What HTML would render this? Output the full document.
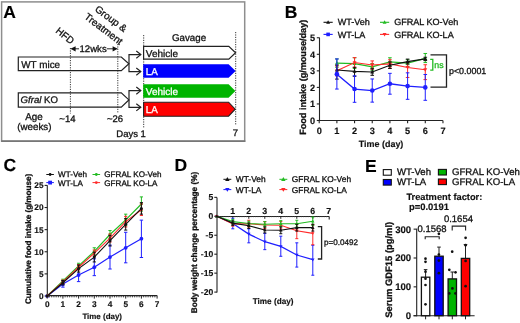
<!DOCTYPE html><html><head><meta charset="utf-8"><style>html,body{margin:0;padding:0;background:#fff;}svg{display:block;will-change:transform;text-rendering:geometricPrecision;} text{font-family:"Liberation Sans",sans-serif;}</style></head><body>
<svg width="520" height="323" viewBox="0 0 520 323" font-family="Liberation Sans, sans-serif">
<rect width="520" height="323" fill="#fff"/>
<rect x="1.6" y="1.9" width="243.1" height="139.2" fill="none" stroke="#8e8e8e" stroke-width="1.5"/>
<line x1="1.2" y1="141.1" x2="245.4" y2="141.1" stroke="#6a6a6a" stroke-width="1.4" />
<text x="3.3" y="17.8" font-size="17.5" font-weight="bold" text-anchor="start" fill="#000" stroke="#000" stroke-width="0.15" >A</text>
<text x="0" y="0" font-size="9.9" text-anchor="middle" fill="#111" stroke="#111" stroke-width="0.3" transform="translate(62.9,38.3) rotate(38)">HFD</text>
<text x="0" y="0" font-size="9.95" text-anchor="middle" fill="#111" stroke="#111" stroke-width="0.3" transform="translate(109.0,21.4) rotate(36.5)">Group &amp;</text>
<text x="0" y="0" font-size="9.95" text-anchor="middle" fill="#111" stroke="#111" stroke-width="0.3" transform="translate(101.6,31.6) rotate(37)">Treatment</text>
<line x1="73" y1="48.8" x2="79" y2="48.8" stroke="#111" stroke-width="0.9" />
<line x1="107" y1="48.8" x2="115" y2="48.8" stroke="#111" stroke-width="0.9" />
<polygon points="70.4,48.8 75.6,46.2 75.6,51.4" fill="#111" stroke="none" stroke-width="1" />
<polygon points="117.8,48.8 112.6,46.2 112.6,51.4" fill="#111" stroke="none" stroke-width="1" />
<text x="93.1" y="51.8" font-size="9.6" text-anchor="middle" fill="#111" stroke="#111" stroke-width="0.3" >12wks</text>
<polygon points="18.3,57 121.3,57 128.9,63.7 121.3,70.6 18.3,70.6" fill="#fff" stroke="#222" stroke-width="1.2" />
<text x="21.3" y="67.8" font-size="9.9" text-anchor="start" fill="#111" stroke="#111" stroke-width="0.3" >WT mice</text>
<polygon points="18.3,92.8 121.3,92.8 128.9,99.9 121.3,107.2 18.3,107.2" fill="#fff" stroke="#222" stroke-width="1.2" />
<text x="20.6" y="103.3" font-size="9.6" fill="#111" stroke="#111" stroke-width="0.3"><tspan font-style="italic">Gfral</tspan> KO</text>
<polyline points="140.6,54.6 129,54.6 129,71.6 140.6,71.6" fill="none" stroke="#222" stroke-width="1.2" />
<polyline points="136.3,51 140.8,54.6 136.3,58.2" fill="none" stroke="#222" stroke-width="1.2" />
<polyline points="136.3,68 140.8,71.6 136.3,75.2" fill="none" stroke="#222" stroke-width="1.2" />
<polyline points="140.6,90.6 129,90.6 129,107.3 140.6,107.3" fill="none" stroke="#222" stroke-width="1.2" />
<polyline points="136.3,87 140.8,90.6 136.3,94.2" fill="none" stroke="#222" stroke-width="1.2" />
<polyline points="136.3,103.7 140.8,107.3 136.3,110.9" fill="none" stroke="#222" stroke-width="1.2" />
<line x1="70.4" y1="48" x2="70.4" y2="113.5" stroke="#222" stroke-width="0.9" stroke-dasharray="1.2 1.2"/>
<line x1="117.8" y1="44" x2="117.8" y2="113.5" stroke="#222" stroke-width="0.9" stroke-dasharray="1.2 1.2"/>
<line x1="143.7" y1="35" x2="143.7" y2="128" stroke="#222" stroke-width="0.9" stroke-dasharray="1.2 1.2"/>
<line x1="235.7" y1="32" x2="235.7" y2="125" stroke="#222" stroke-width="0.9" stroke-dasharray="1.2 1.2"/>
<polygon points="143.6,46.3 228.8,46.3 235.6,52.8 228.8,59.2 143.6,59.2" fill="#fff" stroke="#222" stroke-width="1.2" />
<polygon points="143.2,64.2 228.6,64.2 235.6,71 228.6,77.8 143.2,77.8" fill="#0000fe" stroke="none" stroke-width="1" />
<polygon points="143.2,84.3 228.6,84.3 235.4,91 228.6,97.8 143.2,97.8" fill="#00b400" stroke="none" stroke-width="1" />
<polygon points="143.6,102.2 228.6,102.2 235.2,109.2 228.6,116.2 143.6,116.2" fill="#fe0000" stroke="#222" stroke-width="1.1" />
<text x="145.8" y="56.6" font-size="10" text-anchor="start" fill="#111" stroke="#111" stroke-width="0.3" >Vehicle</text>
<text x="145.8" y="75.3" font-size="9.8" text-anchor="start" fill="#fff" stroke="#fff" stroke-width="0.3" >LA</text>
<text x="145.8" y="95.1" font-size="10" text-anchor="start" fill="#fff" stroke="#fff" stroke-width="0.3" >Vehicle</text>
<text x="145.8" y="113.3" font-size="9.8" text-anchor="start" fill="#fff" stroke="#fff" stroke-width="0.3" >LA</text>
<text x="189" y="40.8" font-size="9.75" text-anchor="middle" fill="#111" stroke="#111" stroke-width="0.3" >Gavage</text>
<text x="34" y="120" font-size="9.8" text-anchor="middle" fill="#111" stroke="#111" stroke-width="0.3" >Age</text>
<text x="34.3" y="130" font-size="9.8" text-anchor="middle" fill="#111" stroke="#111" stroke-width="0.3" >(weeks)</text>
<text x="67.4" y="121.7" font-size="9.5" text-anchor="middle" fill="#111" stroke="#111" stroke-width="0.3" >~14</text>
<text x="115.1" y="121.7" font-size="9.5" text-anchor="middle" fill="#111" stroke="#111" stroke-width="0.3" >~26</text>
<text x="131.1" y="136.5" font-size="9.5" text-anchor="middle" fill="#111" stroke="#111" stroke-width="0.3" >Days 1</text>
<text x="235.5" y="136" font-size="9.5" text-anchor="middle" fill="#111" stroke="#111" stroke-width="0.3" >7</text>
<text x="284.8" y="17.8" font-size="17.5" font-weight="bold" text-anchor="start" fill="#000" stroke="#000" stroke-width="0.15" >B</text>
<line x1="319.5" y1="37.6" x2="319.5" y2="121" stroke="#222" stroke-width="1.1" />
<line x1="319" y1="120.5" x2="442.9" y2="120.5" stroke="#222" stroke-width="1.1" />
<line x1="316.8" y1="120.5" x2="319.5" y2="120.5" stroke="#222" stroke-width="1.1" />
<text x="315" y="123.8" font-size="9.2" font-weight="bold" text-anchor="end" fill="#111" stroke="#111" stroke-width="0.15" >0</text>
<line x1="316.8" y1="103.95" x2="319.5" y2="103.95" stroke="#222" stroke-width="1.1" />
<text x="315" y="107.25" font-size="9.2" font-weight="bold" text-anchor="end" fill="#111" stroke="#111" stroke-width="0.15" >1</text>
<line x1="316.8" y1="87.4" x2="319.5" y2="87.4" stroke="#222" stroke-width="1.1" />
<text x="315" y="90.7" font-size="9.2" font-weight="bold" text-anchor="end" fill="#111" stroke="#111" stroke-width="0.15" >2</text>
<line x1="316.8" y1="70.85" x2="319.5" y2="70.85" stroke="#222" stroke-width="1.1" />
<text x="315" y="74.15" font-size="9.2" font-weight="bold" text-anchor="end" fill="#111" stroke="#111" stroke-width="0.15" >3</text>
<line x1="316.8" y1="54.3" x2="319.5" y2="54.3" stroke="#222" stroke-width="1.1" />
<text x="315" y="57.6" font-size="9.2" font-weight="bold" text-anchor="end" fill="#111" stroke="#111" stroke-width="0.15" >4</text>
<line x1="316.8" y1="37.75" x2="319.5" y2="37.75" stroke="#222" stroke-width="1.1" />
<text x="315" y="41.05" font-size="9.2" font-weight="bold" text-anchor="end" fill="#111" stroke="#111" stroke-width="0.15" >5</text>
<line x1="319.2" y1="120.5" x2="319.2" y2="123.2" stroke="#222" stroke-width="1.1" />
<text x="319.2" y="133.9" font-size="9.2" font-weight="bold" text-anchor="middle" fill="#111" stroke="#111" stroke-width="0.15" >0</text>
<line x1="336.88" y1="120.5" x2="336.88" y2="123.2" stroke="#222" stroke-width="1.1" />
<text x="336.88" y="133.9" font-size="9.2" font-weight="bold" text-anchor="middle" fill="#111" stroke="#111" stroke-width="0.15" >1</text>
<line x1="354.56" y1="120.5" x2="354.56" y2="123.2" stroke="#222" stroke-width="1.1" />
<text x="354.56" y="133.9" font-size="9.2" font-weight="bold" text-anchor="middle" fill="#111" stroke="#111" stroke-width="0.15" >2</text>
<line x1="372.24" y1="120.5" x2="372.24" y2="123.2" stroke="#222" stroke-width="1.1" />
<text x="372.24" y="133.9" font-size="9.2" font-weight="bold" text-anchor="middle" fill="#111" stroke="#111" stroke-width="0.15" >3</text>
<line x1="389.92" y1="120.5" x2="389.92" y2="123.2" stroke="#222" stroke-width="1.1" />
<text x="389.92" y="133.9" font-size="9.2" font-weight="bold" text-anchor="middle" fill="#111" stroke="#111" stroke-width="0.15" >4</text>
<line x1="407.6" y1="120.5" x2="407.6" y2="123.2" stroke="#222" stroke-width="1.1" />
<text x="407.6" y="133.9" font-size="9.2" font-weight="bold" text-anchor="middle" fill="#111" stroke="#111" stroke-width="0.15" >5</text>
<line x1="425.28" y1="120.5" x2="425.28" y2="123.2" stroke="#222" stroke-width="1.1" />
<text x="425.28" y="133.9" font-size="9.2" font-weight="bold" text-anchor="middle" fill="#111" stroke="#111" stroke-width="0.15" >6</text>
<line x1="442.96" y1="120.5" x2="442.96" y2="123.2" stroke="#222" stroke-width="1.1" />
<text x="442.96" y="133.9" font-size="9.2" font-weight="bold" text-anchor="middle" fill="#111" stroke="#111" stroke-width="0.15" >7</text>
<text x="381.1" y="146.9" font-size="8.95" font-weight="bold" text-anchor="middle" fill="#111" stroke="#111" stroke-width="0.15" >Time (day)</text>
<text x="0" y="0" font-size="9.08" font-weight="bold" text-anchor="middle" fill="#111" stroke="#111" stroke-width="0.3" transform="translate(306.2,77.3) rotate(-90)">Food intake (g/mouse/day)</text>
<line x1="323.5" y1="22.3" x2="332.7" y2="22.3" stroke="#111" stroke-width="1.1" />
<polygon points="328.1,20.32 326.12,23.74 330.08,23.74" fill="#111" stroke="none" stroke-width="1" />
<text x="337.7" y="25.4" font-size="9.05" text-anchor="start" fill="#111" stroke="#111" stroke-width="0.3" >WT-Veh</text>
<line x1="323.5" y1="34.4" x2="332.7" y2="34.4" stroke="#1f1fff" stroke-width="1.1" />
<rect x="326.3" y="32.6" width="3.6" height="3.6" fill="#1f1fff"/>
<text x="337.7" y="37.6" font-size="9.05" text-anchor="start" fill="#111" stroke="#111" stroke-width="0.3" >WT-LA</text>
<line x1="380" y1="22.3" x2="389.2" y2="22.3" stroke="#22bb22" stroke-width="1.1" />
<polygon points="384.6,20.32 382.62,23.74 386.58,23.74" fill="#22bb22" stroke="none" stroke-width="1" />
<text x="394.2" y="25.4" font-size="9.05" text-anchor="start" fill="#111" stroke="#111" stroke-width="0.3" >GFRAL KO-Veh</text>
<line x1="380" y1="34.4" x2="389.2" y2="34.4" stroke="#ff2a2a" stroke-width="1.1" />
<polygon points="384.6,36.38 382.62,32.96 386.58,32.96" fill="#ff2a2a" stroke="none" stroke-width="1" />
<text x="394.2" y="37.6" font-size="9.05" text-anchor="start" fill="#111" stroke="#111" stroke-width="0.3" >GFRAL KO-LA</text>
<line x1="336.88" y1="58.93" x2="336.88" y2="67.21" stroke="#22bb22" stroke-width="1" />
<line x1="335.08" y1="58.93" x2="338.68" y2="58.93" stroke="#22bb22" stroke-width="1" />
<line x1="335.08" y1="67.21" x2="338.68" y2="67.21" stroke="#22bb22" stroke-width="1" />
<line x1="354.56" y1="57.78" x2="354.56" y2="68.53" stroke="#22bb22" stroke-width="1" />
<line x1="352.76" y1="57.78" x2="356.36" y2="57.78" stroke="#22bb22" stroke-width="1" />
<line x1="352.76" y1="68.53" x2="356.36" y2="68.53" stroke="#22bb22" stroke-width="1" />
<line x1="372.24" y1="63.57" x2="372.24" y2="70.19" stroke="#22bb22" stroke-width="1" />
<line x1="370.44" y1="63.57" x2="374.04" y2="63.57" stroke="#22bb22" stroke-width="1" />
<line x1="370.44" y1="70.19" x2="374.04" y2="70.19" stroke="#22bb22" stroke-width="1" />
<line x1="389.92" y1="57.78" x2="389.92" y2="66.05" stroke="#22bb22" stroke-width="1" />
<line x1="388.12" y1="57.78" x2="391.72" y2="57.78" stroke="#22bb22" stroke-width="1" />
<line x1="388.12" y1="66.05" x2="391.72" y2="66.05" stroke="#22bb22" stroke-width="1" />
<line x1="407.6" y1="59.76" x2="407.6" y2="66.38" stroke="#22bb22" stroke-width="1" />
<line x1="405.8" y1="59.76" x2="409.4" y2="59.76" stroke="#22bb22" stroke-width="1" />
<line x1="405.8" y1="66.38" x2="409.4" y2="66.38" stroke="#22bb22" stroke-width="1" />
<line x1="425.28" y1="53.47" x2="425.28" y2="62.57" stroke="#22bb22" stroke-width="1" />
<line x1="423.48" y1="53.47" x2="427.08" y2="53.47" stroke="#22bb22" stroke-width="1" />
<line x1="423.48" y1="62.57" x2="427.08" y2="62.57" stroke="#22bb22" stroke-width="1" />
<polyline points="336.88,63.07 354.56,63.57 372.24,66.88 389.92,61.91 407.6,63.07 425.28,58.44" fill="none" stroke="#22bb22" stroke-width="1.2" />
<polygon points="336.88,61.09 334.9,64.51 338.86,64.51" fill="#22bb22" stroke="none" stroke-width="1" />
<polygon points="354.56,61.59 352.58,65.01 356.54,65.01" fill="#22bb22" stroke="none" stroke-width="1" />
<polygon points="372.24,64.9 370.26,68.32 374.22,68.32" fill="#22bb22" stroke="none" stroke-width="1" />
<polygon points="389.92,59.93 387.94,63.35 391.9,63.35" fill="#22bb22" stroke="none" stroke-width="1" />
<polygon points="407.6,61.09 405.62,64.51 409.58,64.51" fill="#22bb22" stroke="none" stroke-width="1" />
<polygon points="425.28,56.46 423.3,59.88 427.26,59.88" fill="#22bb22" stroke="none" stroke-width="1" />
<line x1="336.88" y1="65.88" x2="336.88" y2="75.81" stroke="#ff2a2a" stroke-width="1" />
<line x1="335.08" y1="65.88" x2="338.68" y2="65.88" stroke="#ff2a2a" stroke-width="1" />
<line x1="335.08" y1="75.81" x2="338.68" y2="75.81" stroke="#ff2a2a" stroke-width="1" />
<line x1="354.56" y1="57.61" x2="354.56" y2="67.54" stroke="#ff2a2a" stroke-width="1" />
<line x1="352.76" y1="57.61" x2="356.36" y2="57.61" stroke="#ff2a2a" stroke-width="1" />
<line x1="352.76" y1="67.54" x2="356.36" y2="67.54" stroke="#ff2a2a" stroke-width="1" />
<line x1="372.24" y1="60.92" x2="372.24" y2="69.19" stroke="#ff2a2a" stroke-width="1" />
<line x1="370.44" y1="60.92" x2="374.04" y2="60.92" stroke="#ff2a2a" stroke-width="1" />
<line x1="370.44" y1="69.19" x2="374.04" y2="69.19" stroke="#ff2a2a" stroke-width="1" />
<line x1="389.92" y1="59.76" x2="389.92" y2="68.04" stroke="#ff2a2a" stroke-width="1" />
<line x1="388.12" y1="59.76" x2="391.72" y2="59.76" stroke="#ff2a2a" stroke-width="1" />
<line x1="388.12" y1="68.04" x2="391.72" y2="68.04" stroke="#ff2a2a" stroke-width="1" />
<line x1="407.6" y1="62.57" x2="407.6" y2="77.47" stroke="#ff2a2a" stroke-width="1" />
<line x1="405.8" y1="62.57" x2="409.4" y2="62.57" stroke="#ff2a2a" stroke-width="1" />
<line x1="405.8" y1="77.47" x2="409.4" y2="77.47" stroke="#ff2a2a" stroke-width="1" />
<line x1="425.28" y1="64.73" x2="425.28" y2="79.62" stroke="#ff2a2a" stroke-width="1" />
<line x1="423.48" y1="64.73" x2="427.08" y2="64.73" stroke="#ff2a2a" stroke-width="1" />
<line x1="423.48" y1="79.62" x2="427.08" y2="79.62" stroke="#ff2a2a" stroke-width="1" />
<polyline points="336.88,70.85 354.56,62.57 372.24,65.06 389.92,63.9 407.6,67.54 425.28,69.69" fill="none" stroke="#ff2a2a" stroke-width="1.1" />
<polygon points="336.88,72.83 334.9,69.41 338.86,69.41" fill="#ff2a2a" stroke="none" stroke-width="1" />
<polygon points="354.56,64.55 352.58,61.13 356.54,61.13" fill="#ff2a2a" stroke="none" stroke-width="1" />
<polygon points="372.24,67.04 370.26,63.62 374.22,63.62" fill="#ff2a2a" stroke="none" stroke-width="1" />
<polygon points="389.92,65.88 387.94,62.46 391.9,62.46" fill="#ff2a2a" stroke="none" stroke-width="1" />
<polygon points="407.6,69.52 405.62,66.1 409.58,66.1" fill="#ff2a2a" stroke="none" stroke-width="1" />
<polygon points="425.28,71.67 423.3,68.25 427.26,68.25" fill="#ff2a2a" stroke="none" stroke-width="1" />
<line x1="336.88" y1="65.06" x2="336.88" y2="79.12" stroke="#111" stroke-width="1" />
<line x1="335.08" y1="65.06" x2="338.68" y2="65.06" stroke="#111" stroke-width="1" />
<line x1="335.08" y1="79.12" x2="338.68" y2="79.12" stroke="#111" stroke-width="1" />
<line x1="354.56" y1="67.21" x2="354.56" y2="76.31" stroke="#111" stroke-width="1" />
<line x1="352.76" y1="67.21" x2="356.36" y2="67.21" stroke="#111" stroke-width="1" />
<line x1="352.76" y1="76.31" x2="356.36" y2="76.31" stroke="#111" stroke-width="1" />
<line x1="372.24" y1="68.7" x2="372.24" y2="75.32" stroke="#111" stroke-width="1" />
<line x1="370.44" y1="68.7" x2="374.04" y2="68.7" stroke="#111" stroke-width="1" />
<line x1="370.44" y1="75.32" x2="374.04" y2="75.32" stroke="#111" stroke-width="1" />
<line x1="389.92" y1="61.91" x2="389.92" y2="68.53" stroke="#111" stroke-width="1" />
<line x1="388.12" y1="61.91" x2="391.72" y2="61.91" stroke="#111" stroke-width="1" />
<line x1="388.12" y1="68.53" x2="391.72" y2="68.53" stroke="#111" stroke-width="1" />
<line x1="407.6" y1="59.1" x2="407.6" y2="64.06" stroke="#111" stroke-width="1" />
<line x1="405.8" y1="59.1" x2="409.4" y2="59.1" stroke="#111" stroke-width="1" />
<line x1="405.8" y1="64.06" x2="409.4" y2="64.06" stroke="#111" stroke-width="1" />
<line x1="425.28" y1="57.28" x2="425.28" y2="60.59" stroke="#111" stroke-width="1" />
<line x1="423.48" y1="57.28" x2="427.08" y2="57.28" stroke="#111" stroke-width="1" />
<line x1="423.48" y1="60.59" x2="427.08" y2="60.59" stroke="#111" stroke-width="1" />
<polyline points="336.88,70.02 354.56,71.35 372.24,72.01 389.92,65.22 407.6,61.58 425.28,58.93" fill="none" stroke="#111" stroke-width="1.2" />
<polygon points="336.88,68.04 334.9,71.46 338.86,71.46" fill="#111" stroke="none" stroke-width="1" />
<polygon points="354.56,69.37 352.58,72.79 356.54,72.79" fill="#111" stroke="none" stroke-width="1" />
<polygon points="372.24,70.03 370.26,73.45 374.22,73.45" fill="#111" stroke="none" stroke-width="1" />
<polygon points="389.92,63.24 387.94,66.66 391.9,66.66" fill="#111" stroke="none" stroke-width="1" />
<polygon points="407.6,59.6 405.62,63.02 409.58,63.02" fill="#111" stroke="none" stroke-width="1" />
<polygon points="425.28,56.95 423.3,60.37 427.26,60.37" fill="#111" stroke="none" stroke-width="1" />
<line x1="336.88" y1="58.93" x2="336.88" y2="89.06" stroke="#1f1fff" stroke-width="1" />
<line x1="335.08" y1="58.93" x2="338.68" y2="58.93" stroke="#1f1fff" stroke-width="1" />
<line x1="335.08" y1="89.06" x2="338.68" y2="89.06" stroke="#1f1fff" stroke-width="1" />
<line x1="354.56" y1="75.81" x2="354.56" y2="102.3" stroke="#1f1fff" stroke-width="1" />
<line x1="352.76" y1="75.81" x2="356.36" y2="75.81" stroke="#1f1fff" stroke-width="1" />
<line x1="352.76" y1="102.3" x2="356.36" y2="102.3" stroke="#1f1fff" stroke-width="1" />
<line x1="372.24" y1="78.96" x2="372.24" y2="102.13" stroke="#1f1fff" stroke-width="1" />
<line x1="370.44" y1="78.96" x2="374.04" y2="78.96" stroke="#1f1fff" stroke-width="1" />
<line x1="370.44" y1="102.13" x2="374.04" y2="102.13" stroke="#1f1fff" stroke-width="1" />
<line x1="389.92" y1="73.33" x2="389.92" y2="94.19" stroke="#1f1fff" stroke-width="1" />
<line x1="388.12" y1="73.33" x2="391.72" y2="73.33" stroke="#1f1fff" stroke-width="1" />
<line x1="388.12" y1="94.19" x2="391.72" y2="94.19" stroke="#1f1fff" stroke-width="1" />
<line x1="407.6" y1="72.84" x2="407.6" y2="99.32" stroke="#1f1fff" stroke-width="1" />
<line x1="405.8" y1="72.84" x2="409.4" y2="72.84" stroke="#1f1fff" stroke-width="1" />
<line x1="405.8" y1="99.32" x2="409.4" y2="99.32" stroke="#1f1fff" stroke-width="1" />
<line x1="425.28" y1="74.49" x2="425.28" y2="100.31" stroke="#1f1fff" stroke-width="1" />
<line x1="423.48" y1="74.49" x2="427.08" y2="74.49" stroke="#1f1fff" stroke-width="1" />
<line x1="423.48" y1="100.31" x2="427.08" y2="100.31" stroke="#1f1fff" stroke-width="1" />
<polyline points="336.88,74.16 354.56,89.06 372.24,90.54 389.92,83.76 407.6,86.08 425.28,87.4" fill="none" stroke="#1f1fff" stroke-width="1.3" />
<circle cx="336.88" cy="74.16" r="2.3" fill="#1f1fff"/>
<circle cx="354.56" cy="89.06" r="2.3" fill="#1f1fff"/>
<circle cx="372.24" cy="90.54" r="2.3" fill="#1f1fff"/>
<circle cx="389.92" cy="83.76" r="2.3" fill="#1f1fff"/>
<circle cx="407.6" cy="86.08" r="2.3" fill="#1f1fff"/>
<circle cx="425.28" cy="87.4" r="2.3" fill="#1f1fff"/>
<polyline points="430.5,54.8 446.5,54.8 446.5,87.1 430.5,87.1" fill="none" stroke="#222" stroke-width="1.3" />
<polyline points="430.2,59.4 432.8,59.4 432.8,70.2 430.2,70.2" fill="none" stroke="#22bb22" stroke-width="1.3" />
<text x="434.3" y="68.2" font-size="8.8" text-anchor="start" fill="#22bb22" stroke="#22bb22" stroke-width="0.3" >ns</text>
<text x="449" y="74.2" font-size="8.9" text-anchor="start" fill="#111" stroke="#111" stroke-width="0.3" >p&lt;0.0001</text>
<text x="3.4" y="171.4" font-size="17.5" font-weight="bold" text-anchor="start" fill="#000" stroke="#000" stroke-width="0.15" >C</text>
<line x1="47.3" y1="185.2" x2="47.3" y2="296.5" stroke="#222" stroke-width="1.1" />
<line x1="46.8" y1="295.6" x2="157.3" y2="295.6" stroke="#222" stroke-width="1.1" />
<line x1="44.6" y1="296" x2="47.3" y2="296" stroke="#222" stroke-width="1.1" />
<text x="43.6" y="298.9" font-size="8.3" font-weight="bold" text-anchor="end" fill="#111" stroke="#111" stroke-width="0.15" >0</text>
<line x1="44.6" y1="273.88" x2="47.3" y2="273.88" stroke="#222" stroke-width="1.1" />
<text x="43.6" y="276.78" font-size="8.3" font-weight="bold" text-anchor="end" fill="#111" stroke="#111" stroke-width="0.15" >5</text>
<line x1="44.6" y1="251.76" x2="47.3" y2="251.76" stroke="#222" stroke-width="1.1" />
<text x="43.6" y="254.66" font-size="8.3" font-weight="bold" text-anchor="end" fill="#111" stroke="#111" stroke-width="0.15" >10</text>
<line x1="44.6" y1="229.64" x2="47.3" y2="229.64" stroke="#222" stroke-width="1.1" />
<text x="43.6" y="232.54" font-size="8.3" font-weight="bold" text-anchor="end" fill="#111" stroke="#111" stroke-width="0.15" >15</text>
<line x1="44.6" y1="207.52" x2="47.3" y2="207.52" stroke="#222" stroke-width="1.1" />
<text x="43.6" y="210.42" font-size="8.3" font-weight="bold" text-anchor="end" fill="#111" stroke="#111" stroke-width="0.15" >20</text>
<line x1="44.6" y1="185.4" x2="47.3" y2="185.4" stroke="#222" stroke-width="1.1" />
<text x="43.6" y="188.3" font-size="8.3" font-weight="bold" text-anchor="end" fill="#111" stroke="#111" stroke-width="0.15" >25</text>
<line x1="47.2" y1="295.8" x2="47.2" y2="298.6" stroke="#222" stroke-width="1.0" />
<line x1="49.44" y1="295.8" x2="49.44" y2="297.4" stroke="#222" stroke-width="0.8" />
<line x1="51.69" y1="295.8" x2="51.69" y2="297.4" stroke="#222" stroke-width="0.8" />
<line x1="53.93" y1="295.8" x2="53.93" y2="297.4" stroke="#222" stroke-width="0.8" />
<line x1="56.17" y1="295.8" x2="56.17" y2="297.4" stroke="#222" stroke-width="0.8" />
<line x1="58.41" y1="295.8" x2="58.41" y2="297.4" stroke="#222" stroke-width="0.8" />
<line x1="60.66" y1="295.8" x2="60.66" y2="297.4" stroke="#222" stroke-width="0.8" />
<line x1="62.9" y1="295.8" x2="62.9" y2="298.6" stroke="#222" stroke-width="1.0" />
<line x1="65.14" y1="295.8" x2="65.14" y2="297.4" stroke="#222" stroke-width="0.8" />
<line x1="67.39" y1="295.8" x2="67.39" y2="297.4" stroke="#222" stroke-width="0.8" />
<line x1="69.63" y1="295.8" x2="69.63" y2="297.4" stroke="#222" stroke-width="0.8" />
<line x1="71.87" y1="295.8" x2="71.87" y2="297.4" stroke="#222" stroke-width="0.8" />
<line x1="74.11" y1="295.8" x2="74.11" y2="297.4" stroke="#222" stroke-width="0.8" />
<line x1="76.36" y1="295.8" x2="76.36" y2="297.4" stroke="#222" stroke-width="0.8" />
<line x1="78.6" y1="295.8" x2="78.6" y2="298.6" stroke="#222" stroke-width="1.0" />
<line x1="80.84" y1="295.8" x2="80.84" y2="297.4" stroke="#222" stroke-width="0.8" />
<line x1="83.09" y1="295.8" x2="83.09" y2="297.4" stroke="#222" stroke-width="0.8" />
<line x1="85.33" y1="295.8" x2="85.33" y2="297.4" stroke="#222" stroke-width="0.8" />
<line x1="87.57" y1="295.8" x2="87.57" y2="297.4" stroke="#222" stroke-width="0.8" />
<line x1="89.81" y1="295.8" x2="89.81" y2="297.4" stroke="#222" stroke-width="0.8" />
<line x1="92.06" y1="295.8" x2="92.06" y2="297.4" stroke="#222" stroke-width="0.8" />
<line x1="94.3" y1="295.8" x2="94.3" y2="298.6" stroke="#222" stroke-width="1.0" />
<line x1="96.54" y1="295.8" x2="96.54" y2="297.4" stroke="#222" stroke-width="0.8" />
<line x1="98.79" y1="295.8" x2="98.79" y2="297.4" stroke="#222" stroke-width="0.8" />
<line x1="101.03" y1="295.8" x2="101.03" y2="297.4" stroke="#222" stroke-width="0.8" />
<line x1="103.27" y1="295.8" x2="103.27" y2="297.4" stroke="#222" stroke-width="0.8" />
<line x1="105.51" y1="295.8" x2="105.51" y2="297.4" stroke="#222" stroke-width="0.8" />
<line x1="107.76" y1="295.8" x2="107.76" y2="297.4" stroke="#222" stroke-width="0.8" />
<line x1="110" y1="295.8" x2="110" y2="298.6" stroke="#222" stroke-width="1.0" />
<line x1="112.24" y1="295.8" x2="112.24" y2="297.4" stroke="#222" stroke-width="0.8" />
<line x1="114.49" y1="295.8" x2="114.49" y2="297.4" stroke="#222" stroke-width="0.8" />
<line x1="116.73" y1="295.8" x2="116.73" y2="297.4" stroke="#222" stroke-width="0.8" />
<line x1="118.97" y1="295.8" x2="118.97" y2="297.4" stroke="#222" stroke-width="0.8" />
<line x1="121.21" y1="295.8" x2="121.21" y2="297.4" stroke="#222" stroke-width="0.8" />
<line x1="123.46" y1="295.8" x2="123.46" y2="297.4" stroke="#222" stroke-width="0.8" />
<line x1="125.7" y1="295.8" x2="125.7" y2="298.6" stroke="#222" stroke-width="1.0" />
<line x1="127.94" y1="295.8" x2="127.94" y2="297.4" stroke="#222" stroke-width="0.8" />
<line x1="130.19" y1="295.8" x2="130.19" y2="297.4" stroke="#222" stroke-width="0.8" />
<line x1="132.43" y1="295.8" x2="132.43" y2="297.4" stroke="#222" stroke-width="0.8" />
<line x1="134.67" y1="295.8" x2="134.67" y2="297.4" stroke="#222" stroke-width="0.8" />
<line x1="136.91" y1="295.8" x2="136.91" y2="297.4" stroke="#222" stroke-width="0.8" />
<line x1="139.16" y1="295.8" x2="139.16" y2="297.4" stroke="#222" stroke-width="0.8" />
<line x1="141.4" y1="295.8" x2="141.4" y2="298.6" stroke="#222" stroke-width="1.0" />
<line x1="143.64" y1="295.8" x2="143.64" y2="297.4" stroke="#222" stroke-width="0.8" />
<line x1="145.89" y1="295.8" x2="145.89" y2="297.4" stroke="#222" stroke-width="0.8" />
<line x1="148.13" y1="295.8" x2="148.13" y2="297.4" stroke="#222" stroke-width="0.8" />
<line x1="150.37" y1="295.8" x2="150.37" y2="297.4" stroke="#222" stroke-width="0.8" />
<line x1="152.61" y1="295.8" x2="152.61" y2="297.4" stroke="#222" stroke-width="0.8" />
<line x1="154.86" y1="295.8" x2="154.86" y2="297.4" stroke="#222" stroke-width="0.8" />
<line x1="157.1" y1="295.8" x2="157.1" y2="298.6" stroke="#222" stroke-width="1.0" />
<text x="47.2" y="307.3" font-size="8.3" font-weight="bold" text-anchor="middle" fill="#111" stroke="#111" stroke-width="0.15" >0</text>
<text x="62.9" y="307.3" font-size="8.3" font-weight="bold" text-anchor="middle" fill="#111" stroke="#111" stroke-width="0.15" >1</text>
<text x="78.6" y="307.3" font-size="8.3" font-weight="bold" text-anchor="middle" fill="#111" stroke="#111" stroke-width="0.15" >2</text>
<text x="94.3" y="307.3" font-size="8.3" font-weight="bold" text-anchor="middle" fill="#111" stroke="#111" stroke-width="0.15" >3</text>
<text x="110" y="307.3" font-size="8.3" font-weight="bold" text-anchor="middle" fill="#111" stroke="#111" stroke-width="0.15" >4</text>
<text x="125.7" y="307.3" font-size="8.3" font-weight="bold" text-anchor="middle" fill="#111" stroke="#111" stroke-width="0.15" >5</text>
<text x="141.4" y="307.3" font-size="8.3" font-weight="bold" text-anchor="middle" fill="#111" stroke="#111" stroke-width="0.15" >6</text>
<text x="157.1" y="307.3" font-size="8.3" font-weight="bold" text-anchor="middle" fill="#111" stroke="#111" stroke-width="0.15" >7</text>
<text x="102.2" y="318.8" font-size="7.95" font-weight="bold" text-anchor="middle" fill="#111" stroke="#111" stroke-width="0.15" >Time (day)</text>
<text x="0" y="0" font-size="8.12" font-weight="bold" text-anchor="middle" fill="#111" stroke="#111" stroke-width="0.3" transform="translate(30.6,238.9) rotate(-90)">Cumulative food intake (g/mouse)</text>
<line x1="46.3" y1="174.5" x2="53.9" y2="174.5" stroke="#111" stroke-width="1.0" />
<circle cx="50.1" cy="174.5" r="1.4" fill="#111"/>
<text x="58.1" y="177.4" font-size="8.1" text-anchor="start" fill="#111" stroke="#111" stroke-width="0.3" >WT-Veh</text>
<line x1="46.3" y1="182.6" x2="53.9" y2="182.6" stroke="#1f1fff" stroke-width="1.0" />
<rect x="48.2" y="180.7" width="3.8" height="3.8" fill="#1f1fff"/>
<text x="58.1" y="185.5" font-size="8.1" text-anchor="start" fill="#111" stroke="#111" stroke-width="0.3" >WT-LA</text>
<line x1="92.5" y1="174.5" x2="100.1" y2="174.5" stroke="#22bb22" stroke-width="1.0" />
<circle cx="96.3" cy="174.5" r="1.4" fill="#22bb22"/>
<text x="104.3" y="177.4" font-size="8.1" text-anchor="start" fill="#111" stroke="#111" stroke-width="0.3" >GFRAL KO-Veh</text>
<line x1="92.5" y1="182.6" x2="100.1" y2="182.6" stroke="#ff2a2a" stroke-width="1.0" />
<circle cx="96.3" cy="182.6" r="1.4" fill="#ff2a2a"/>
<text x="104.3" y="185.5" font-size="8.1" text-anchor="start" fill="#111" stroke="#111" stroke-width="0.3" >GFRAL KO-LA</text>
<line x1="62.9" y1="280.96" x2="62.9" y2="287.15" stroke="#1f1fff" stroke-width="1" />
<line x1="61.2" y1="280.96" x2="64.6" y2="280.96" stroke="#1f1fff" stroke-width="1" />
<line x1="61.2" y1="287.15" x2="64.6" y2="287.15" stroke="#1f1fff" stroke-width="1" />
<line x1="78.6" y1="268.35" x2="78.6" y2="281.62" stroke="#1f1fff" stroke-width="1" />
<line x1="76.9" y1="268.35" x2="80.3" y2="268.35" stroke="#1f1fff" stroke-width="1" />
<line x1="76.9" y1="281.62" x2="80.3" y2="281.62" stroke="#1f1fff" stroke-width="1" />
<line x1="94.3" y1="258.84" x2="94.3" y2="275.65" stroke="#1f1fff" stroke-width="1" />
<line x1="92.6" y1="258.84" x2="96" y2="258.84" stroke="#1f1fff" stroke-width="1" />
<line x1="92.6" y1="275.65" x2="96" y2="275.65" stroke="#1f1fff" stroke-width="1" />
<line x1="110" y1="245.12" x2="110" y2="269.01" stroke="#1f1fff" stroke-width="1" />
<line x1="108.3" y1="245.12" x2="111.7" y2="245.12" stroke="#1f1fff" stroke-width="1" />
<line x1="108.3" y1="269.01" x2="111.7" y2="269.01" stroke="#1f1fff" stroke-width="1" />
<line x1="125.7" y1="232.29" x2="125.7" y2="262.82" stroke="#1f1fff" stroke-width="1" />
<line x1="124" y1="232.29" x2="127.4" y2="232.29" stroke="#1f1fff" stroke-width="1" />
<line x1="124" y1="262.82" x2="127.4" y2="262.82" stroke="#1f1fff" stroke-width="1" />
<line x1="141.4" y1="220.13" x2="141.4" y2="257.51" stroke="#1f1fff" stroke-width="1" />
<line x1="139.7" y1="220.13" x2="143.1" y2="220.13" stroke="#1f1fff" stroke-width="1" />
<line x1="139.7" y1="257.51" x2="143.1" y2="257.51" stroke="#1f1fff" stroke-width="1" />
<polyline points="47.2,296 62.9,284.06 78.6,274.99 94.3,267.24 110,257.07 125.7,247.78 141.4,238.71" fill="none" stroke="#1f1fff" stroke-width="1.2" />
<circle cx="47.2" cy="296" r="1.9" fill="#1f1fff"/>
<circle cx="62.9" cy="284.06" r="1.9" fill="#1f1fff"/>
<circle cx="78.6" cy="274.99" r="1.9" fill="#1f1fff"/>
<circle cx="94.3" cy="267.24" r="1.9" fill="#1f1fff"/>
<circle cx="110" cy="257.07" r="1.9" fill="#1f1fff"/>
<circle cx="125.7" cy="247.78" r="1.9" fill="#1f1fff"/>
<circle cx="141.4" cy="238.71" r="1.9" fill="#1f1fff"/>
<line x1="62.9" y1="279.19" x2="62.9" y2="282.73" stroke="#22bb22" stroke-width="1" />
<line x1="61.3" y1="279.19" x2="64.5" y2="279.19" stroke="#22bb22" stroke-width="1" />
<line x1="61.3" y1="282.73" x2="64.5" y2="282.73" stroke="#22bb22" stroke-width="1" />
<line x1="78.6" y1="263.26" x2="78.6" y2="268.57" stroke="#22bb22" stroke-width="1" />
<line x1="77" y1="263.26" x2="80.2" y2="263.26" stroke="#22bb22" stroke-width="1" />
<line x1="77" y1="268.57" x2="80.2" y2="268.57" stroke="#22bb22" stroke-width="1" />
<line x1="94.3" y1="247.78" x2="94.3" y2="254.86" stroke="#22bb22" stroke-width="1" />
<line x1="92.7" y1="247.78" x2="95.9" y2="247.78" stroke="#22bb22" stroke-width="1" />
<line x1="92.7" y1="254.86" x2="95.9" y2="254.86" stroke="#22bb22" stroke-width="1" />
<line x1="110" y1="230.52" x2="110" y2="238.49" stroke="#22bb22" stroke-width="1" />
<line x1="108.4" y1="230.52" x2="111.6" y2="230.52" stroke="#22bb22" stroke-width="1" />
<line x1="108.4" y1="238.49" x2="111.6" y2="238.49" stroke="#22bb22" stroke-width="1" />
<line x1="125.7" y1="214.16" x2="125.7" y2="225.66" stroke="#22bb22" stroke-width="1" />
<line x1="124.1" y1="214.16" x2="127.3" y2="214.16" stroke="#22bb22" stroke-width="1" />
<line x1="124.1" y1="225.66" x2="127.3" y2="225.66" stroke="#22bb22" stroke-width="1" />
<line x1="141.4" y1="196.9" x2="141.4" y2="211.06" stroke="#22bb22" stroke-width="1" />
<line x1="139.8" y1="196.9" x2="143" y2="196.9" stroke="#22bb22" stroke-width="1" />
<line x1="139.8" y1="211.06" x2="143" y2="211.06" stroke="#22bb22" stroke-width="1" />
<polyline points="47.2,296 62.9,280.96 78.6,265.92 94.3,251.32 110,234.51 125.7,219.91 141.4,203.98" fill="none" stroke="#22bb22" stroke-width="1.2" />
<circle cx="47.2" cy="296" r="1.4" fill="#22bb22"/>
<circle cx="62.9" cy="280.96" r="1.4" fill="#22bb22"/>
<circle cx="78.6" cy="265.92" r="1.4" fill="#22bb22"/>
<circle cx="94.3" cy="251.32" r="1.4" fill="#22bb22"/>
<circle cx="110" cy="234.51" r="1.4" fill="#22bb22"/>
<circle cx="125.7" cy="219.91" r="1.4" fill="#22bb22"/>
<circle cx="141.4" cy="203.98" r="1.4" fill="#22bb22"/>
<line x1="62.9" y1="280.07" x2="62.9" y2="283.61" stroke="#ff2a2a" stroke-width="1" />
<line x1="61.3" y1="280.07" x2="64.5" y2="280.07" stroke="#ff2a2a" stroke-width="1" />
<line x1="61.3" y1="283.61" x2="64.5" y2="283.61" stroke="#ff2a2a" stroke-width="1" />
<line x1="78.6" y1="264.59" x2="78.6" y2="269.9" stroke="#ff2a2a" stroke-width="1" />
<line x1="77" y1="264.59" x2="80.2" y2="264.59" stroke="#ff2a2a" stroke-width="1" />
<line x1="77" y1="269.9" x2="80.2" y2="269.9" stroke="#ff2a2a" stroke-width="1" />
<line x1="94.3" y1="249.99" x2="94.3" y2="256.18" stroke="#ff2a2a" stroke-width="1" />
<line x1="92.7" y1="249.99" x2="95.9" y2="249.99" stroke="#ff2a2a" stroke-width="1" />
<line x1="92.7" y1="256.18" x2="95.9" y2="256.18" stroke="#ff2a2a" stroke-width="1" />
<line x1="110" y1="234.06" x2="110" y2="242.03" stroke="#ff2a2a" stroke-width="1" />
<line x1="108.4" y1="234.06" x2="111.6" y2="234.06" stroke="#ff2a2a" stroke-width="1" />
<line x1="108.4" y1="242.03" x2="111.6" y2="242.03" stroke="#ff2a2a" stroke-width="1" />
<line x1="125.7" y1="216.37" x2="125.7" y2="226.99" stroke="#ff2a2a" stroke-width="1" />
<line x1="124.1" y1="216.37" x2="127.3" y2="216.37" stroke="#ff2a2a" stroke-width="1" />
<line x1="124.1" y1="226.99" x2="127.3" y2="226.99" stroke="#ff2a2a" stroke-width="1" />
<line x1="141.4" y1="203.98" x2="141.4" y2="215.48" stroke="#ff2a2a" stroke-width="1" />
<line x1="139.8" y1="203.98" x2="143" y2="203.98" stroke="#ff2a2a" stroke-width="1" />
<line x1="139.8" y1="215.48" x2="143" y2="215.48" stroke="#ff2a2a" stroke-width="1" />
<polyline points="47.2,296 62.9,281.84 78.6,267.24 94.3,253.09 110,238.05 125.7,221.68 141.4,209.73" fill="none" stroke="#ff2a2a" stroke-width="1.1" />
<circle cx="47.2" cy="296" r="1.4" fill="#ff2a2a"/>
<circle cx="62.9" cy="281.84" r="1.4" fill="#ff2a2a"/>
<circle cx="78.6" cy="267.24" r="1.4" fill="#ff2a2a"/>
<circle cx="94.3" cy="253.09" r="1.4" fill="#ff2a2a"/>
<circle cx="110" cy="238.05" r="1.4" fill="#ff2a2a"/>
<circle cx="125.7" cy="221.68" r="1.4" fill="#ff2a2a"/>
<circle cx="141.4" cy="209.73" r="1.4" fill="#ff2a2a"/>
<line x1="62.9" y1="280.52" x2="62.9" y2="284.94" stroke="#111" stroke-width="1" />
<line x1="61.3" y1="280.52" x2="64.5" y2="280.52" stroke="#111" stroke-width="1" />
<line x1="61.3" y1="284.94" x2="64.5" y2="284.94" stroke="#111" stroke-width="1" />
<line x1="78.6" y1="265.03" x2="78.6" y2="272.11" stroke="#111" stroke-width="1" />
<line x1="77" y1="265.03" x2="80.2" y2="265.03" stroke="#111" stroke-width="1" />
<line x1="77" y1="272.11" x2="80.2" y2="272.11" stroke="#111" stroke-width="1" />
<line x1="94.3" y1="252.2" x2="94.3" y2="261.94" stroke="#111" stroke-width="1" />
<line x1="92.7" y1="252.2" x2="95.9" y2="252.2" stroke="#111" stroke-width="1" />
<line x1="92.7" y1="261.94" x2="95.9" y2="261.94" stroke="#111" stroke-width="1" />
<line x1="110" y1="235.39" x2="110" y2="246.01" stroke="#111" stroke-width="1" />
<line x1="108.4" y1="235.39" x2="111.6" y2="235.39" stroke="#111" stroke-width="1" />
<line x1="108.4" y1="246.01" x2="111.6" y2="246.01" stroke="#111" stroke-width="1" />
<line x1="125.7" y1="218.58" x2="125.7" y2="230.08" stroke="#111" stroke-width="1" />
<line x1="124.1" y1="218.58" x2="127.3" y2="218.58" stroke="#111" stroke-width="1" />
<line x1="124.1" y1="230.08" x2="127.3" y2="230.08" stroke="#111" stroke-width="1" />
<line x1="141.4" y1="202.65" x2="141.4" y2="214.16" stroke="#111" stroke-width="1" />
<line x1="139.8" y1="202.65" x2="143" y2="202.65" stroke="#111" stroke-width="1" />
<line x1="139.8" y1="214.16" x2="143" y2="214.16" stroke="#111" stroke-width="1" />
<polyline points="47.2,296 62.9,282.73 78.6,268.57 94.3,257.07 110,240.7 125.7,224.33 141.4,208.4" fill="none" stroke="#111" stroke-width="1.1" />
<circle cx="47.2" cy="296" r="1.5" fill="#111"/>
<circle cx="62.9" cy="282.73" r="1.5" fill="#111"/>
<circle cx="78.6" cy="268.57" r="1.5" fill="#111"/>
<circle cx="94.3" cy="257.07" r="1.5" fill="#111"/>
<circle cx="110" cy="240.7" r="1.5" fill="#111"/>
<circle cx="125.7" cy="224.33" r="1.5" fill="#111"/>
<circle cx="141.4" cy="208.4" r="1.5" fill="#111"/>
<text x="174.4" y="171.4" font-size="17.5" font-weight="bold" text-anchor="start" fill="#000" stroke="#000" stroke-width="0.15" >D</text>
<line x1="217" y1="197.6" x2="217" y2="292.4" stroke="#222" stroke-width="1.1" />
<line x1="216.5" y1="216.5" x2="329.2" y2="216.5" stroke="#222" stroke-width="1.1" />
<line x1="329.2" y1="216.5" x2="329.2" y2="219.4" stroke="#222" stroke-width="1.1" />
<line x1="214.3" y1="197.35" x2="217" y2="197.35" stroke="#222" stroke-width="1.1" />
<text x="213.2" y="200.35" font-size="8.6" font-weight="bold" text-anchor="end" fill="#111" stroke="#111" stroke-width="0.15" >5</text>
<line x1="214.3" y1="216.3" x2="217" y2="216.3" stroke="#222" stroke-width="1.1" />
<text x="213.2" y="219.3" font-size="8.6" font-weight="bold" text-anchor="end" fill="#111" stroke="#111" stroke-width="0.15" >0</text>
<line x1="214.3" y1="235.25" x2="217" y2="235.25" stroke="#222" stroke-width="1.1" />
<text x="213.2" y="238.25" font-size="8.6" font-weight="bold" text-anchor="end" fill="#111" stroke="#111" stroke-width="0.15" >-5</text>
<line x1="214.3" y1="254.2" x2="217" y2="254.2" stroke="#222" stroke-width="1.1" />
<text x="213.2" y="257.2" font-size="8.6" font-weight="bold" text-anchor="end" fill="#111" stroke="#111" stroke-width="0.15" >-10</text>
<line x1="214.3" y1="273.15" x2="217" y2="273.15" stroke="#222" stroke-width="1.1" />
<text x="213.2" y="276.15" font-size="8.6" font-weight="bold" text-anchor="end" fill="#111" stroke="#111" stroke-width="0.15" >-15</text>
<line x1="214.3" y1="292.1" x2="217" y2="292.1" stroke="#222" stroke-width="1.1" />
<text x="213.2" y="295.1" font-size="8.6" font-weight="bold" text-anchor="end" fill="#111" stroke="#111" stroke-width="0.15" >-20</text>
<line x1="219.09" y1="216.3" x2="219.09" y2="217.3" stroke="#555" stroke-width="0.6" />
<line x1="221.37" y1="216.3" x2="221.37" y2="217.3" stroke="#555" stroke-width="0.6" />
<line x1="223.66" y1="216.3" x2="223.66" y2="217.3" stroke="#555" stroke-width="0.6" />
<line x1="225.94" y1="216.3" x2="225.94" y2="217.3" stroke="#555" stroke-width="0.6" />
<line x1="228.23" y1="216.3" x2="228.23" y2="217.3" stroke="#555" stroke-width="0.6" />
<line x1="230.51" y1="216.3" x2="230.51" y2="217.3" stroke="#555" stroke-width="0.6" />
<line x1="232.8" y1="216.3" x2="232.8" y2="218.8" stroke="#222" stroke-width="1.0" />
<line x1="235.09" y1="216.3" x2="235.09" y2="217.3" stroke="#555" stroke-width="0.6" />
<line x1="237.37" y1="216.3" x2="237.37" y2="217.3" stroke="#555" stroke-width="0.6" />
<line x1="239.66" y1="216.3" x2="239.66" y2="217.3" stroke="#555" stroke-width="0.6" />
<line x1="241.94" y1="216.3" x2="241.94" y2="217.3" stroke="#555" stroke-width="0.6" />
<line x1="244.23" y1="216.3" x2="244.23" y2="217.3" stroke="#555" stroke-width="0.6" />
<line x1="246.51" y1="216.3" x2="246.51" y2="217.3" stroke="#555" stroke-width="0.6" />
<line x1="248.8" y1="216.3" x2="248.8" y2="218.8" stroke="#222" stroke-width="1.0" />
<line x1="251.09" y1="216.3" x2="251.09" y2="217.3" stroke="#555" stroke-width="0.6" />
<line x1="253.37" y1="216.3" x2="253.37" y2="217.3" stroke="#555" stroke-width="0.6" />
<line x1="255.66" y1="216.3" x2="255.66" y2="217.3" stroke="#555" stroke-width="0.6" />
<line x1="257.94" y1="216.3" x2="257.94" y2="217.3" stroke="#555" stroke-width="0.6" />
<line x1="260.23" y1="216.3" x2="260.23" y2="217.3" stroke="#555" stroke-width="0.6" />
<line x1="262.51" y1="216.3" x2="262.51" y2="217.3" stroke="#555" stroke-width="0.6" />
<line x1="264.8" y1="216.3" x2="264.8" y2="218.8" stroke="#222" stroke-width="1.0" />
<line x1="267.09" y1="216.3" x2="267.09" y2="217.3" stroke="#555" stroke-width="0.6" />
<line x1="269.37" y1="216.3" x2="269.37" y2="217.3" stroke="#555" stroke-width="0.6" />
<line x1="271.66" y1="216.3" x2="271.66" y2="217.3" stroke="#555" stroke-width="0.6" />
<line x1="273.94" y1="216.3" x2="273.94" y2="217.3" stroke="#555" stroke-width="0.6" />
<line x1="276.23" y1="216.3" x2="276.23" y2="217.3" stroke="#555" stroke-width="0.6" />
<line x1="278.51" y1="216.3" x2="278.51" y2="217.3" stroke="#555" stroke-width="0.6" />
<line x1="280.8" y1="216.3" x2="280.8" y2="218.8" stroke="#222" stroke-width="1.0" />
<line x1="283.09" y1="216.3" x2="283.09" y2="217.3" stroke="#555" stroke-width="0.6" />
<line x1="285.37" y1="216.3" x2="285.37" y2="217.3" stroke="#555" stroke-width="0.6" />
<line x1="287.66" y1="216.3" x2="287.66" y2="217.3" stroke="#555" stroke-width="0.6" />
<line x1="289.94" y1="216.3" x2="289.94" y2="217.3" stroke="#555" stroke-width="0.6" />
<line x1="292.23" y1="216.3" x2="292.23" y2="217.3" stroke="#555" stroke-width="0.6" />
<line x1="294.51" y1="216.3" x2="294.51" y2="217.3" stroke="#555" stroke-width="0.6" />
<line x1="296.8" y1="216.3" x2="296.8" y2="218.8" stroke="#222" stroke-width="1.0" />
<line x1="299.09" y1="216.3" x2="299.09" y2="217.3" stroke="#555" stroke-width="0.6" />
<line x1="301.37" y1="216.3" x2="301.37" y2="217.3" stroke="#555" stroke-width="0.6" />
<line x1="303.66" y1="216.3" x2="303.66" y2="217.3" stroke="#555" stroke-width="0.6" />
<line x1="305.94" y1="216.3" x2="305.94" y2="217.3" stroke="#555" stroke-width="0.6" />
<line x1="308.23" y1="216.3" x2="308.23" y2="217.3" stroke="#555" stroke-width="0.6" />
<line x1="310.51" y1="216.3" x2="310.51" y2="217.3" stroke="#555" stroke-width="0.6" />
<line x1="312.8" y1="216.3" x2="312.8" y2="218.8" stroke="#222" stroke-width="1.0" />
<line x1="315.09" y1="216.3" x2="315.09" y2="217.3" stroke="#555" stroke-width="0.6" />
<line x1="317.37" y1="216.3" x2="317.37" y2="217.3" stroke="#555" stroke-width="0.6" />
<line x1="319.66" y1="216.3" x2="319.66" y2="217.3" stroke="#555" stroke-width="0.6" />
<line x1="321.94" y1="216.3" x2="321.94" y2="217.3" stroke="#555" stroke-width="0.6" />
<line x1="324.23" y1="216.3" x2="324.23" y2="217.3" stroke="#555" stroke-width="0.6" />
<line x1="326.51" y1="216.3" x2="326.51" y2="217.3" stroke="#555" stroke-width="0.6" />
<text x="232.8" y="214" font-size="8.8" font-weight="bold" text-anchor="middle" fill="#111" stroke="#111" stroke-width="0.15" >1</text>
<text x="248.8" y="214" font-size="8.8" font-weight="bold" text-anchor="middle" fill="#111" stroke="#111" stroke-width="0.15" >2</text>
<text x="264.8" y="214" font-size="8.8" font-weight="bold" text-anchor="middle" fill="#111" stroke="#111" stroke-width="0.15" >3</text>
<text x="280.8" y="214" font-size="8.8" font-weight="bold" text-anchor="middle" fill="#111" stroke="#111" stroke-width="0.15" >4</text>
<text x="296.8" y="214" font-size="8.8" font-weight="bold" text-anchor="middle" fill="#111" stroke="#111" stroke-width="0.15" >5</text>
<text x="312.8" y="214" font-size="8.8" font-weight="bold" text-anchor="middle" fill="#111" stroke="#111" stroke-width="0.15" >6</text>
<text x="328.8" y="214" font-size="8.8" font-weight="bold" text-anchor="middle" fill="#111" stroke="#111" stroke-width="0.15" >7</text>
<text x="273.1" y="303.5" font-size="8.2" font-weight="bold" text-anchor="middle" fill="#111" stroke="#111" stroke-width="0.15" >Time (day)</text>
<text x="0" y="0" font-size="8.26" font-weight="bold" text-anchor="middle" fill="#111" stroke="#111" stroke-width="0.3" transform="translate(197.3,242.5) rotate(-90)">Body weight change percentage (%)</text>
<line x1="223.4" y1="179.3" x2="231.3" y2="179.3" stroke="#111" stroke-width="1.0" />
<polygon points="227.35,177.1 225.15,180.9 229.55,180.9" fill="#111" stroke="none" stroke-width="1" />
<text x="235.8" y="182.3" font-size="8.4" text-anchor="start" fill="#111" stroke="#111" stroke-width="0.3" >WT-Veh</text>
<line x1="223.4" y1="189.6" x2="231.3" y2="189.6" stroke="#1f1fff" stroke-width="1.0" />
<polygon points="227.35,191.8 225.15,188 229.55,188" fill="#1f1fff" stroke="none" stroke-width="1" />
<text x="235.8" y="192.6" font-size="8.4" text-anchor="start" fill="#111" stroke="#111" stroke-width="0.3" >WT-LA</text>
<line x1="279.4" y1="179.3" x2="287.3" y2="179.3" stroke="#22bb22" stroke-width="1.0" />
<polygon points="283.35,177.1 281.15,180.9 285.55,180.9" fill="#22bb22" stroke="none" stroke-width="1" />
<text x="291.8" y="182.3" font-size="8.4" text-anchor="start" fill="#111" stroke="#111" stroke-width="0.3" >GFRAL KO-Veh</text>
<line x1="279.4" y1="189.6" x2="287.3" y2="189.6" stroke="#ff2a2a" stroke-width="1.0" />
<polygon points="283.35,191.8 281.15,188 285.55,188" fill="#ff2a2a" stroke="none" stroke-width="1" />
<text x="291.8" y="192.6" font-size="8.4" text-anchor="start" fill="#111" stroke="#111" stroke-width="0.3" >GFRAL KO-LA</text>
<line x1="232.8" y1="218.2" x2="232.8" y2="228.81" stroke="#1f1fff" stroke-width="1" />
<line x1="231.3" y1="218.2" x2="234.3" y2="218.2" stroke="#1f1fff" stroke-width="1" />
<line x1="231.3" y1="228.81" x2="234.3" y2="228.81" stroke="#1f1fff" stroke-width="1" />
<line x1="248.8" y1="228.81" x2="248.8" y2="242.83" stroke="#1f1fff" stroke-width="1" />
<line x1="247.3" y1="228.81" x2="250.3" y2="228.81" stroke="#1f1fff" stroke-width="1" />
<line x1="247.3" y1="242.83" x2="250.3" y2="242.83" stroke="#1f1fff" stroke-width="1" />
<line x1="264.8" y1="233.36" x2="264.8" y2="249.65" stroke="#1f1fff" stroke-width="1" />
<line x1="263.3" y1="233.36" x2="266.3" y2="233.36" stroke="#1f1fff" stroke-width="1" />
<line x1="263.3" y1="249.65" x2="266.3" y2="249.65" stroke="#1f1fff" stroke-width="1" />
<line x1="280.8" y1="236.2" x2="280.8" y2="256.28" stroke="#1f1fff" stroke-width="1" />
<line x1="279.3" y1="236.2" x2="282.3" y2="236.2" stroke="#1f1fff" stroke-width="1" />
<line x1="279.3" y1="256.28" x2="282.3" y2="256.28" stroke="#1f1fff" stroke-width="1" />
<line x1="296.8" y1="242.83" x2="296.8" y2="267.09" stroke="#1f1fff" stroke-width="1" />
<line x1="295.3" y1="242.83" x2="298.3" y2="242.83" stroke="#1f1fff" stroke-width="1" />
<line x1="295.3" y1="267.09" x2="298.3" y2="267.09" stroke="#1f1fff" stroke-width="1" />
<line x1="312.8" y1="245.29" x2="312.8" y2="275.23" stroke="#1f1fff" stroke-width="1" />
<line x1="311.3" y1="245.29" x2="314.3" y2="245.29" stroke="#1f1fff" stroke-width="1" />
<line x1="311.3" y1="275.23" x2="314.3" y2="275.23" stroke="#1f1fff" stroke-width="1" />
<polyline points="216.8,216.3 232.8,223.5 248.8,234.11 264.8,241.69 280.8,246.43 296.8,254.96 312.8,259.7" fill="none" stroke="#1f1fff" stroke-width="1.2" />
<polygon points="216.8,218.06 215.04,215.02 218.56,215.02" fill="#1f1fff" stroke="none" stroke-width="1" />
<polygon points="232.8,225.26 231.04,222.22 234.56,222.22" fill="#1f1fff" stroke="none" stroke-width="1" />
<polygon points="248.8,235.87 247.04,232.83 250.56,232.83" fill="#1f1fff" stroke="none" stroke-width="1" />
<polygon points="264.8,243.45 263.04,240.41 266.56,240.41" fill="#1f1fff" stroke="none" stroke-width="1" />
<polygon points="280.8,248.19 279.04,245.15 282.56,245.15" fill="#1f1fff" stroke="none" stroke-width="1" />
<polygon points="296.8,256.72 295.04,253.68 298.56,253.68" fill="#1f1fff" stroke="none" stroke-width="1" />
<polygon points="312.8,261.46 311.04,258.42 314.56,258.42" fill="#1f1fff" stroke="none" stroke-width="1" />
<line x1="232.8" y1="221.61" x2="232.8" y2="226.15" stroke="#ff2a2a" stroke-width="1" />
<line x1="231.3" y1="221.61" x2="234.3" y2="221.61" stroke="#ff2a2a" stroke-width="1" />
<line x1="231.3" y1="226.15" x2="234.3" y2="226.15" stroke="#ff2a2a" stroke-width="1" />
<line x1="248.8" y1="220.28" x2="248.8" y2="227.1" stroke="#ff2a2a" stroke-width="1" />
<line x1="247.3" y1="220.28" x2="250.3" y2="220.28" stroke="#ff2a2a" stroke-width="1" />
<line x1="247.3" y1="227.1" x2="250.3" y2="227.1" stroke="#ff2a2a" stroke-width="1" />
<line x1="264.8" y1="221.61" x2="264.8" y2="228.43" stroke="#ff2a2a" stroke-width="1" />
<line x1="263.3" y1="221.61" x2="266.3" y2="221.61" stroke="#ff2a2a" stroke-width="1" />
<line x1="263.3" y1="228.43" x2="266.3" y2="228.43" stroke="#ff2a2a" stroke-width="1" />
<line x1="280.8" y1="221.42" x2="280.8" y2="229" stroke="#ff2a2a" stroke-width="1" />
<line x1="279.3" y1="221.42" x2="282.3" y2="221.42" stroke="#ff2a2a" stroke-width="1" />
<line x1="279.3" y1="229" x2="282.3" y2="229" stroke="#ff2a2a" stroke-width="1" />
<line x1="296.8" y1="223.88" x2="296.8" y2="238.66" stroke="#ff2a2a" stroke-width="1" />
<line x1="295.3" y1="223.88" x2="298.3" y2="223.88" stroke="#ff2a2a" stroke-width="1" />
<line x1="295.3" y1="238.66" x2="298.3" y2="238.66" stroke="#ff2a2a" stroke-width="1" />
<line x1="312.8" y1="224.64" x2="312.8" y2="244.73" stroke="#ff2a2a" stroke-width="1" />
<line x1="311.3" y1="224.64" x2="314.3" y2="224.64" stroke="#ff2a2a" stroke-width="1" />
<line x1="311.3" y1="244.73" x2="314.3" y2="244.73" stroke="#ff2a2a" stroke-width="1" />
<polyline points="216.8,216.3 232.8,223.88 248.8,223.69 264.8,225.02 280.8,225.21 296.8,230.7 312.8,233.36" fill="none" stroke="#ff2a2a" stroke-width="1.1" />
<polygon points="216.8,217.95 215.15,215.1 218.45,215.1" fill="#ff2a2a" stroke="none" stroke-width="1" />
<polygon points="232.8,225.53 231.15,222.68 234.45,222.68" fill="#ff2a2a" stroke="none" stroke-width="1" />
<polygon points="248.8,225.34 247.15,222.49 250.45,222.49" fill="#ff2a2a" stroke="none" stroke-width="1" />
<polygon points="264.8,226.67 263.15,223.82 266.45,223.82" fill="#ff2a2a" stroke="none" stroke-width="1" />
<polygon points="280.8,226.86 279.15,224.01 282.45,224.01" fill="#ff2a2a" stroke="none" stroke-width="1" />
<polygon points="296.8,232.35 295.15,229.5 298.45,229.5" fill="#ff2a2a" stroke="none" stroke-width="1" />
<polygon points="312.8,235.01 311.15,232.16 314.45,232.16" fill="#ff2a2a" stroke="none" stroke-width="1" />
<line x1="232.8" y1="219.33" x2="232.8" y2="223.88" stroke="#22bb22" stroke-width="1" />
<line x1="231.3" y1="219.33" x2="234.3" y2="219.33" stroke="#22bb22" stroke-width="1" />
<line x1="231.3" y1="223.88" x2="234.3" y2="223.88" stroke="#22bb22" stroke-width="1" />
<line x1="248.8" y1="221.23" x2="248.8" y2="225.78" stroke="#22bb22" stroke-width="1" />
<line x1="247.3" y1="221.23" x2="250.3" y2="221.23" stroke="#22bb22" stroke-width="1" />
<line x1="247.3" y1="225.78" x2="250.3" y2="225.78" stroke="#22bb22" stroke-width="1" />
<line x1="264.8" y1="221.61" x2="264.8" y2="226.91" stroke="#22bb22" stroke-width="1" />
<line x1="263.3" y1="221.61" x2="266.3" y2="221.61" stroke="#22bb22" stroke-width="1" />
<line x1="263.3" y1="226.91" x2="266.3" y2="226.91" stroke="#22bb22" stroke-width="1" />
<line x1="280.8" y1="220.66" x2="280.8" y2="226.72" stroke="#22bb22" stroke-width="1" />
<line x1="279.3" y1="220.66" x2="282.3" y2="220.66" stroke="#22bb22" stroke-width="1" />
<line x1="279.3" y1="226.72" x2="282.3" y2="226.72" stroke="#22bb22" stroke-width="1" />
<line x1="296.8" y1="220.28" x2="296.8" y2="227.1" stroke="#22bb22" stroke-width="1" />
<line x1="295.3" y1="220.28" x2="298.3" y2="220.28" stroke="#22bb22" stroke-width="1" />
<line x1="295.3" y1="227.1" x2="298.3" y2="227.1" stroke="#22bb22" stroke-width="1" />
<line x1="312.8" y1="217.06" x2="312.8" y2="225.4" stroke="#22bb22" stroke-width="1" />
<line x1="311.3" y1="217.06" x2="314.3" y2="217.06" stroke="#22bb22" stroke-width="1" />
<line x1="311.3" y1="225.4" x2="314.3" y2="225.4" stroke="#22bb22" stroke-width="1" />
<polyline points="216.8,216.3 232.8,221.61 248.8,223.5 264.8,224.26 280.8,223.69 296.8,223.69 312.8,221.23" fill="none" stroke="#22bb22" stroke-width="1.1" />
<polygon points="216.8,214.65 215.15,217.5 218.45,217.5" fill="#22bb22" stroke="none" stroke-width="1" />
<polygon points="232.8,219.96 231.15,222.81 234.45,222.81" fill="#22bb22" stroke="none" stroke-width="1" />
<polygon points="248.8,221.85 247.15,224.7 250.45,224.7" fill="#22bb22" stroke="none" stroke-width="1" />
<polygon points="264.8,222.61 263.15,225.46 266.45,225.46" fill="#22bb22" stroke="none" stroke-width="1" />
<polygon points="280.8,222.04 279.15,224.89 282.45,224.89" fill="#22bb22" stroke="none" stroke-width="1" />
<polygon points="296.8,222.04 295.15,224.89 298.45,224.89" fill="#22bb22" stroke="none" stroke-width="1" />
<polygon points="312.8,219.58 311.15,222.43 314.45,222.43" fill="#22bb22" stroke="none" stroke-width="1" />
<line x1="232.8" y1="220.85" x2="232.8" y2="225.4" stroke="#111" stroke-width="1" />
<line x1="231.3" y1="220.85" x2="234.3" y2="220.85" stroke="#111" stroke-width="1" />
<line x1="231.3" y1="225.4" x2="234.3" y2="225.4" stroke="#111" stroke-width="1" />
<line x1="248.8" y1="223.12" x2="248.8" y2="228.43" stroke="#111" stroke-width="1" />
<line x1="247.3" y1="223.12" x2="250.3" y2="223.12" stroke="#111" stroke-width="1" />
<line x1="247.3" y1="228.43" x2="250.3" y2="228.43" stroke="#111" stroke-width="1" />
<line x1="264.8" y1="226.91" x2="264.8" y2="232.98" stroke="#111" stroke-width="1" />
<line x1="263.3" y1="226.91" x2="266.3" y2="226.91" stroke="#111" stroke-width="1" />
<line x1="263.3" y1="232.98" x2="266.3" y2="232.98" stroke="#111" stroke-width="1" />
<line x1="280.8" y1="226.91" x2="280.8" y2="233.73" stroke="#111" stroke-width="1" />
<line x1="279.3" y1="226.91" x2="282.3" y2="226.91" stroke="#111" stroke-width="1" />
<line x1="279.3" y1="233.73" x2="282.3" y2="233.73" stroke="#111" stroke-width="1" />
<line x1="296.8" y1="224.26" x2="296.8" y2="231.08" stroke="#111" stroke-width="1" />
<line x1="295.3" y1="224.26" x2="298.3" y2="224.26" stroke="#111" stroke-width="1" />
<line x1="295.3" y1="231.08" x2="298.3" y2="231.08" stroke="#111" stroke-width="1" />
<line x1="312.8" y1="224.26" x2="312.8" y2="231.08" stroke="#111" stroke-width="1" />
<line x1="311.3" y1="224.26" x2="314.3" y2="224.26" stroke="#111" stroke-width="1" />
<line x1="311.3" y1="231.08" x2="314.3" y2="231.08" stroke="#111" stroke-width="1" />
<polyline points="216.8,216.3 232.8,223.12 248.8,225.78 264.8,229.94 280.8,230.32 296.8,227.67 312.8,227.67" fill="none" stroke="#111" stroke-width="1.1" />
<polygon points="216.8,214.54 215.04,217.58 218.56,217.58" fill="#111" stroke="none" stroke-width="1" />
<polygon points="232.8,221.36 231.04,224.4 234.56,224.4" fill="#111" stroke="none" stroke-width="1" />
<polygon points="248.8,224.02 247.04,227.06 250.56,227.06" fill="#111" stroke="none" stroke-width="1" />
<polygon points="264.8,228.18 263.04,231.22 266.56,231.22" fill="#111" stroke="none" stroke-width="1" />
<polygon points="280.8,228.56 279.04,231.6 282.56,231.6" fill="#111" stroke="none" stroke-width="1" />
<polygon points="296.8,225.91 295.04,228.95 298.56,228.95" fill="#111" stroke="none" stroke-width="1" />
<polygon points="312.8,225.91 311.04,228.95 314.56,228.95" fill="#111" stroke="none" stroke-width="1" />
<polyline points="317.8,226.6 321.6,226.6 321.6,259 317.8,259" fill="none" stroke="#222" stroke-width="1.3" />
<text x="324" y="245.4" font-size="8.1" text-anchor="start" fill="#111" stroke="#111" stroke-width="0.3" >p=0.0492</text>
<text x="365" y="171.7" font-size="17.5" font-weight="bold" text-anchor="start" fill="#000" stroke="#000" stroke-width="0.15" >E</text>
<rect x="383.3" y="169.6" width="8" height="5.6" fill="#fff" stroke="#111" stroke-width="1.1"/>
<text x="396.9" y="175.2" font-size="9.6" text-anchor="start" fill="#111" stroke="#111" stroke-width="0.3" >WT-Veh</text>
<rect x="383.3" y="179.5" width="8" height="5.6" fill="#0000fe" stroke="#111" stroke-width="1.1"/>
<text x="396.9" y="185.1" font-size="9.6" text-anchor="start" fill="#111" stroke="#111" stroke-width="0.3" >WT-LA</text>
<rect x="438.4" y="169.4" width="8" height="5.6" fill="#00b400" stroke="#111" stroke-width="1.1"/>
<text x="452" y="175" font-size="9.6" text-anchor="start" fill="#111" stroke="#111" stroke-width="0.3" >GFRAL KO-Veh</text>
<rect x="438.4" y="179" width="8" height="5.6" fill="#fe0000" stroke="#111" stroke-width="1.1"/>
<text x="452" y="184.6" font-size="9.6" text-anchor="start" fill="#111" stroke="#111" stroke-width="0.3" >GFRAL KO-LA</text>
<text x="406.4" y="199.5" font-size="9.3" font-weight="bold" text-anchor="start" fill="#111" stroke="#111" stroke-width="0.15" >Treatment factor:</text>
<text x="408.9" y="210.1" font-size="9.45" font-weight="bold" text-anchor="start" fill="#111" stroke="#111" stroke-width="0.15" >p=0.0191</text>
<line x1="416.7" y1="228.8" x2="416.7" y2="316.2" stroke="#222" stroke-width="1.1" />
<line x1="413.5" y1="315.7" x2="474.6" y2="315.7" stroke="#222" stroke-width="1.1" />
<line x1="413.6" y1="315.7" x2="416.7" y2="315.7" stroke="#222" stroke-width="1.1" />
<text x="411.2" y="319.1" font-size="9.6" font-weight="bold" text-anchor="end" fill="#111" stroke="#111" stroke-width="0.15" >0</text>
<line x1="413.6" y1="286.85" x2="416.7" y2="286.85" stroke="#222" stroke-width="1.1" />
<text x="411.2" y="290.25" font-size="9.6" font-weight="bold" text-anchor="end" fill="#111" stroke="#111" stroke-width="0.15" >100</text>
<line x1="413.6" y1="258" x2="416.7" y2="258" stroke="#222" stroke-width="1.1" />
<text x="411.2" y="261.4" font-size="9.6" font-weight="bold" text-anchor="end" fill="#111" stroke="#111" stroke-width="0.15" >200</text>
<line x1="413.6" y1="229.15" x2="416.7" y2="229.15" stroke="#222" stroke-width="1.1" />
<text x="411.2" y="232.55" font-size="9.6" font-weight="bold" text-anchor="end" fill="#111" stroke="#111" stroke-width="0.15" >300</text>
<text x="0" y="0" font-size="9.39" font-weight="bold" text-anchor="middle" fill="#111" stroke="#111" stroke-width="0.3" transform="translate(392.4,269.8) rotate(-90)">Serum GDF15 (pg/ml)</text>
<line x1="425.6" y1="269.6" x2="425.6" y2="277.2" stroke="#222" stroke-width="1.0" />
<line x1="423.8" y1="269.6" x2="427.4" y2="269.6" stroke="#222" stroke-width="1.0" />
<rect x="421.4" y="277.2" width="8.4" height="38.5" fill="#fff" stroke="#111" stroke-width="1.3"/>
<line x1="425.6" y1="315.7" x2="425.6" y2="319.3" stroke="#222" stroke-width="1.0" />
<line x1="439" y1="247.1" x2="439" y2="256.2" stroke="#222" stroke-width="1.0" />
<line x1="437.2" y1="247.1" x2="440.8" y2="247.1" stroke="#222" stroke-width="1.0" />
<rect x="434.8" y="256.2" width="8.4" height="59.5" fill="#0000fe" stroke="#111" stroke-width="1.3"/>
<line x1="439" y1="315.7" x2="439" y2="319.3" stroke="#222" stroke-width="1.0" />
<line x1="452.3" y1="272" x2="452.3" y2="278.9" stroke="#222" stroke-width="1.0" />
<line x1="450.5" y1="272" x2="454.1" y2="272" stroke="#222" stroke-width="1.0" />
<rect x="448.1" y="278.9" width="8.4" height="36.8" fill="#00b400" stroke="#111" stroke-width="1.3"/>
<line x1="452.3" y1="315.7" x2="452.3" y2="319.3" stroke="#222" stroke-width="1.0" />
<line x1="465.5" y1="244.6" x2="465.5" y2="258.4" stroke="#222" stroke-width="1.0" />
<line x1="463.7" y1="244.6" x2="467.3" y2="244.6" stroke="#222" stroke-width="1.0" />
<rect x="461.3" y="258.4" width="8.4" height="57.3" fill="#fe0000" stroke="#111" stroke-width="1.3"/>
<line x1="465.5" y1="315.7" x2="465.5" y2="319.3" stroke="#222" stroke-width="1.0" />
<circle cx="425.5" cy="258.7" r="1.35" fill="#111"/>
<circle cx="425.5" cy="261.8" r="1.35" fill="#111"/>
<circle cx="425.5" cy="271.7" r="1.35" fill="#111"/>
<circle cx="425.5" cy="278.7" r="1.35" fill="#111"/>
<circle cx="425.5" cy="285" r="1.35" fill="#111"/>
<circle cx="425.5" cy="304.3" r="1.35" fill="#111"/>
<circle cx="438.9" cy="233.8" r="1.35" fill="#111"/>
<circle cx="438.9" cy="254.5" r="1.35" fill="#111"/>
<circle cx="438.9" cy="260.6" r="1.35" fill="#111"/>
<circle cx="438.9" cy="273.2" r="1.35" fill="#111"/>
<circle cx="452.2" cy="251.7" r="1.35" fill="#111"/>
<circle cx="449.3" cy="269.8" r="1.35" fill="#111"/>
<circle cx="455.5" cy="272.3" r="1.35" fill="#111"/>
<circle cx="452.4" cy="288.4" r="1.35" fill="#111"/>
<circle cx="449.3" cy="293.4" r="1.35" fill="#111"/>
<circle cx="455.5" cy="293.4" r="1.35" fill="#111"/>
<circle cx="465.6" cy="237.8" r="1.35" fill="#111"/>
<circle cx="465.6" cy="245.2" r="1.35" fill="#111"/>
<circle cx="465.6" cy="260.9" r="1.35" fill="#111"/>
<circle cx="465.6" cy="286.2" r="1.35" fill="#111"/>
<polyline points="425.2,239.2 425.2,236.7 439.2,236.7 439.2,239.2" fill="none" stroke="#222" stroke-width="1.1" />
<polyline points="452.2,230.5 452.2,226.1 465.6,226.1 465.6,230.5" fill="none" stroke="#222" stroke-width="1.1" />
<text x="417.5" y="232.2" font-size="9.5" text-anchor="start" fill="#111" stroke="#111" stroke-width="0.3" >0.1568</text>
<text x="443.9" y="221.5" font-size="9.5" text-anchor="start" fill="#111" stroke="#111" stroke-width="0.3" >0.1654</text>
</svg></body></html>
